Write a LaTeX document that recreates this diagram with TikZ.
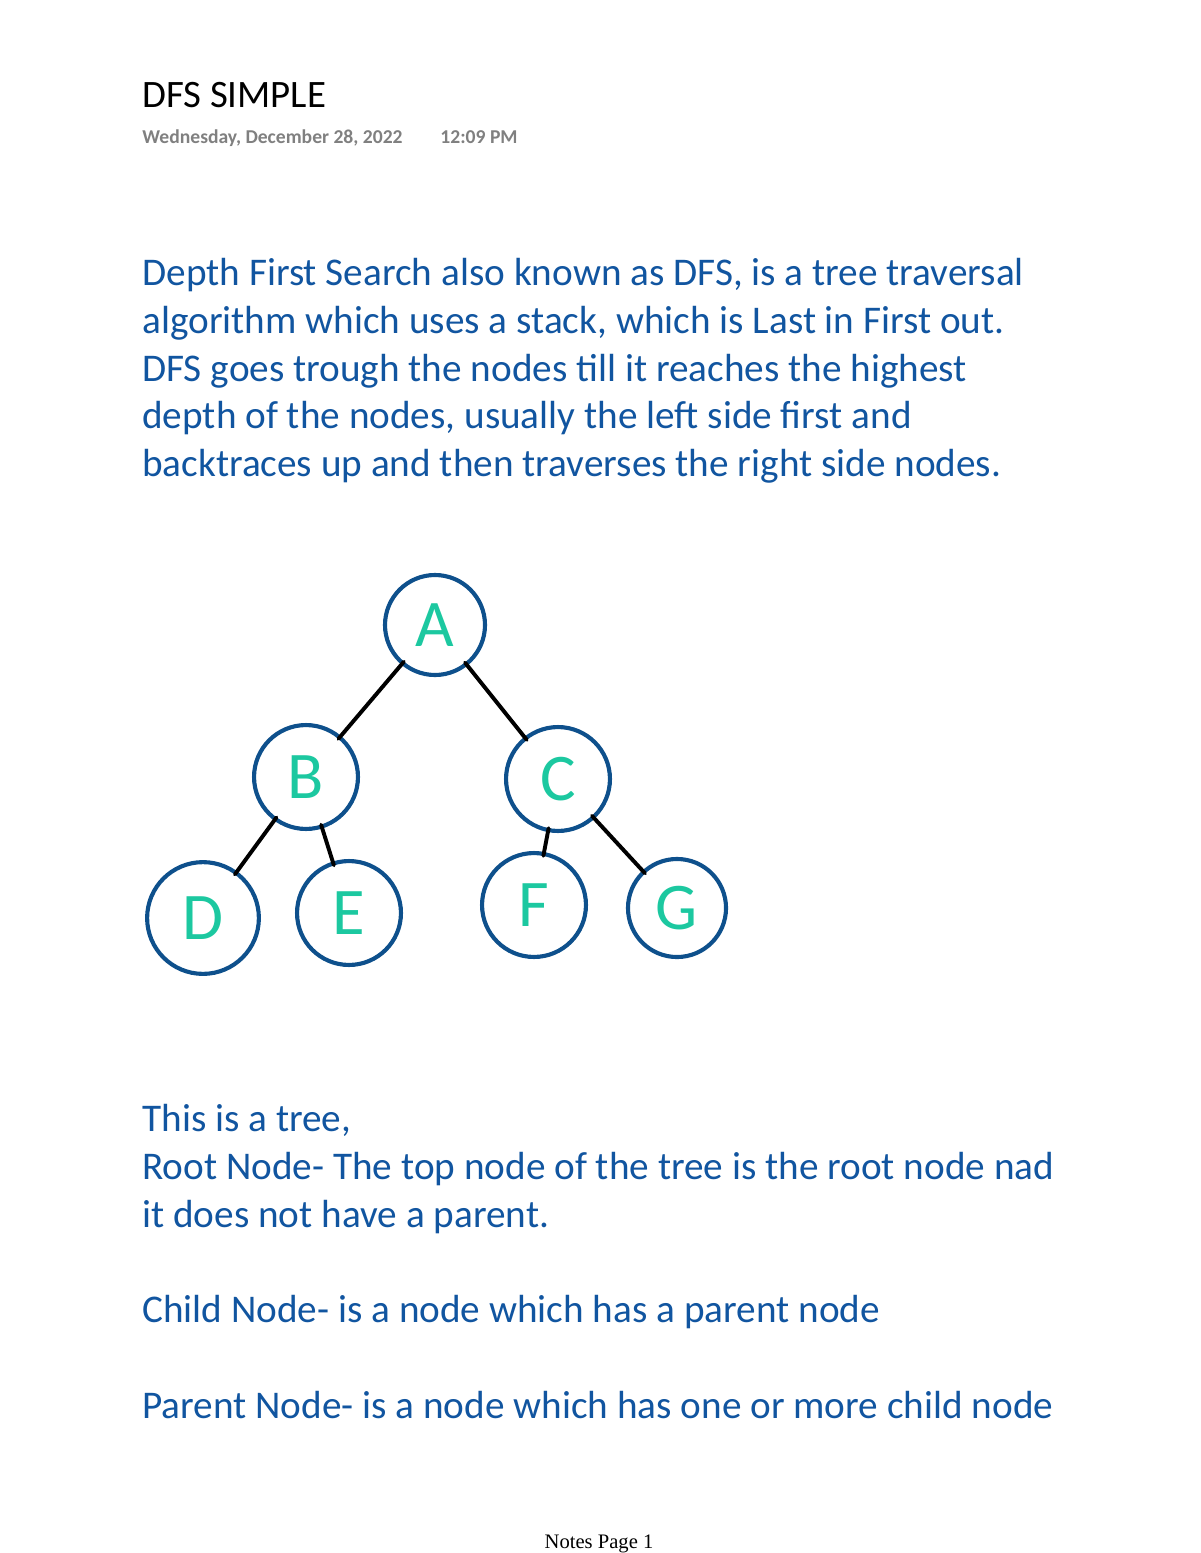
\documentclass[tikz,border=0pt]{standalone}
\usepackage{fontspec}
\setmainfont{Carlito}
\newfontfamily\footfont{Liberation Serif}
\usetikzlibrary{positioning}
\definecolor{textblue}{RGB}{17,85,160}
\definecolor{ringblue}{RGB}{14,80,140}
\definecolor{lettergreen}{RGB}{28,200,160}
\definecolor{dategray}{RGB}{128,128,128}

\tikzset{
  treenode/.style={circle, draw=ringblue, line width=2.1pt, inner sep=0pt,
    text=lettergreen, font=\fontsize{34}{34}\selectfont},
  treeedge/.style={line width=2pt, line cap=round, shorten <=-2pt, shorten >=-2pt},
  bodyline/.style={anchor=base west, inner sep=0pt, text=textblue,
    font=\fontsize{20}{24}\selectfont},
  dateline/.style={anchor=base west, inner sep=0pt, text=dategray,
    font=\bfseries\fontsize{10}{12}\selectfont},
}

\begin{document}
\begin{tikzpicture}[x=0.51pt,y=-0.51pt]
  \useasboundingbox[fill=white] (0,0) rectangle (1200,1553);

  % header
  \node[anchor=base west, inner sep=0pt, font=\fontsize{19.8}{24}\selectfont] (title) at (142,108) {DFS SIMPLE};
  \node[dateline] (date) at (142,144) {Wednesday, December 28, 2022};
  \node[dateline] (time) at (440,144) {12:09 PM};

  % paragraph
  \node[bodyline] (intro1) at (142,285) {Depth First Search also known as DFS, is a tree traversal};
  \node[bodyline] (intro2) at (142,333) {algorithm which uses a stack, which is Last in First out.};
  \node[bodyline] (intro3) at (142,381) {DFS goes trough the nodes till it reaches the highest};
  \node[bodyline] (intro4) at (142,428) {depth of the nodes, usually the left side first and};
  \node[bodyline] (intro5) at (142,476) {backtraces up and then traverses the right side nodes.};

  % tree
  \node[treenode, minimum size=51pt] (A) at (435,625) {A};
  \node[treenode, minimum size=53pt] (B) at (306,777) {B};
  \node[treenode, minimum size=53pt] (C) at (558,779) {C};
  \node[treenode, minimum size=57pt] (D) at (203,918) {D};
  \node[treenode, minimum size=53pt] (E) at (349,913) {E};
  \node[treenode, minimum size=53pt] (F) at (534,905) {F};
  \node[treenode, minimum size=50pt] (G) at (677,908) {G};

  \draw[treeedge] (A) -- (B);
  \draw[treeedge] (A) -- (C);
  \draw[treeedge] (B) -- (D);
  \draw[treeedge] (B) -- (E);
  \draw[treeedge] (C) -- (F);
  \draw[treeedge] (C) -- (G);

  % definitions
  \node[bodyline] (tree) at (142,1131) {This is a tree,};
  \node[bodyline] (root1) at (142,1179) {Root Node- The top node of the tree is the root node nad};
  \node[bodyline] (root2) at (142,1227) {it does not have a parent.};
  \node[bodyline] (child) at (142,1322) {Child Node- is a node which has a parent node};
  \node[bodyline] (parent) at (142,1418) {Parent Node- is a node which has one or more child node};

  % footer
  \node[anchor=base, inner sep=0pt, font=\footfont\fontsize{10.5}{12}\selectfont] (footer) at (599,1548) {Notes Page 1};
\end{tikzpicture}
\end{document}
